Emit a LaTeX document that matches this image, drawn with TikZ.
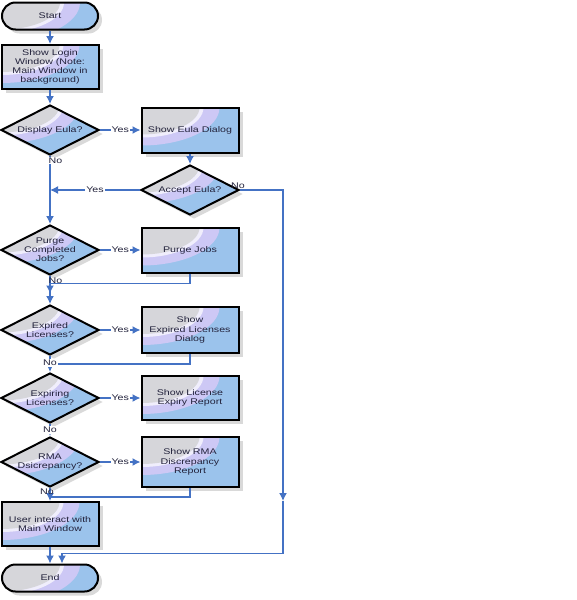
\documentclass[tikz,border=0pt]{standalone}
\usepackage{fontspec}
\setmainfont{Liberation Sans}[FakeStretch=1.3]
\usetikzlibrary{shapes.geometric,shadows,arrows.meta}
\definecolor{flowblue}{RGB}{68,114,196}
\definecolor{fillblue}{RGB}{155,195,236}
\definecolor{filllav}{RGB}{205,200,245}
\definecolor{fillgrey}{RGB}{214,214,218}
\definecolor{txtgrey}{RGB}{35,35,60}

\begin{document}
\begin{tikzpicture}[node distance=63pt,
  swoosh/.style={path picture={
    \fill[filllav] (path picture bounding box.north west) ellipse [x radius=78pt, y radius=38pt];
    \fill[white!70!filllav] (path picture bounding box.north west) ellipse [x radius=62pt, y radius=30pt];
    \fill[fillgrey] (path picture bounding box.north west) ellipse [x radius=58pt, y radius=27pt];}},
  base/.style={draw=black, line width=2pt, fill=fillblue, swoosh,
    drop shadow={shadow xshift=4pt, shadow yshift=-4pt, opacity=0.3},
    text=txtgrey, font=\fontsize{8.2pt}{9.2pt}\selectfont, align=center},
  term/.style={base, rounded corners=13.5pt, minimum width=96pt, minimum height=27pt},
  box/.style={base, minimum width=97pt, minimum height=44pt, inner sep=1pt},
  test/.style={base, diamond, aspect=2, minimum width=98pt, minimum height=50pt, inner xsep=-14pt, inner ysep=-8pt},
  link/.style={draw=flowblue, line width=1.4pt},
  flow/.style={link, -{Latex[length=8pt,width=8pt]}},
  tag/.style={fill=white, inner sep=1pt, text=txtgrey, font=\fontsize{8.2pt}{9.2pt}\selectfont}]
\useasboundingbox (0,0) rectangle (576pt,-600pt);
% left column
\node[term] (start) at (50pt,-16pt) {Start};
\node[box, node distance=51pt] (login) [below of=start] {Show Login\\Window (Note:\\Main Window in\\background)};
\node[test] (eula) [below of=login] {Display Eula?};
\node[test, node distance=120pt] (purge) [below of=eula] {Purge\\Completed\\Jobs?};
\node[test, node distance=80pt] (expired) [below of=purge] {Expired\\Licenses?};
\node[test, node distance=68pt] (expiring) [below of=expired] {Expiring\\Licenses?};
\node[test, node distance=64pt] (rma) [below of=expiring] {RMA\\Dsicrepancy?};
\node[box, node distance=62pt] (user) [below of=rma] {User interact with\\Main Window};
\node[term, node distance=54pt] (fin) [below of=user] {End};
% right column
\node[box, node distance=140pt, minimum height=45pt] (showeula) [right of=eula] {Show Eula Dialog};
\node[test, node distance=60pt] (accept) [below of=showeula] {Accept Eula?};
\node[box, node distance=140pt, minimum height=45pt] (purgejobs) [right of=purge] {Purge Jobs};
\node[box, node distance=140pt, minimum height=46pt] (expiredbox) [right of=expired] {Show\\Expired Licenses\\Dialog};
\node[box, node distance=140pt] (expirybox) [right of=expiring] {Show License\\Expiry Report};
\node[box, node distance=140pt, minimum height=50pt] (rmabox) [right of=rma] {Show RMA\\Discrepancy\\Report};
% helper points
\coordinate (yesjoin) at (eula |- accept);
\coordinate (noturn) at ([xshift=43pt]accept.east);
\coordinate (nodrop) at (noturn |- user.north);
\coordinate (endin) at ([xshift=12pt]fin.north);
\coordinate (pjlow) at ([yshift=-10pt]purgejobs.south);
\coordinate (pjback) at (purge |- pjlow);
\coordinate (eblow) at ([yshift=-10pt]expiredbox.south);
\coordinate (ebback) at (expired |- eblow);
\coordinate (rmalow) at ([yshift=-9pt]rmabox.south);
\coordinate (rmaback) at (rma |- rmalow);
% connectors
\draw[flow] (start) -- (login);
\draw[flow] (login) -- (eula);
\draw[flow] (eula) -- node[tag] {Yes} (showeula);
\draw[flow] (eula) -- node[tag, pos=0, below right, xshift=-3pt] {No} (purge);
\draw[flow] (showeula) -- (accept);
\draw[flow] (accept) -- node[tag, pos=0.5] {Yes} (yesjoin);
\draw[flow] (accept) -- node[tag, pos=0, above, xshift=-2pt, fill=none] {No} (noturn) -- (nodrop);
\draw[flow] (nodrop) |- ([yshift=10pt]endin) -- (endin);
\draw[flow] (purge) -- node[tag] {Yes} (purgejobs);
\draw[flow] (purgejobs) |- (pjback) -- ++(0,-10pt);
\draw[flow] (purge) -- node[tag, pos=0, below right, xshift=-3pt, fill=none] {No} (expired);
\draw[flow] (expired) -- node[tag] {Yes} (expiredbox);
\draw[link] (expiredbox) |- (ebback);
\draw[flow] (expired) -- node[tag, pos=0.45] {No} (expiring);
\draw[flow] (expiring) -- node[tag] {Yes} (expirybox);
\draw[flow] (expiring) -- node[tag] {No} (rma);
\draw[flow] (rma) -- node[tag] {Yes} (rmabox);
\draw[link] (rmabox) |- (rmaback);
\draw[flow] (rma) -- node[tag, pos=0.3, fill=none, xshift=-3pt] {No} (user);
\draw[flow] (user) -- (fin);
\end{tikzpicture}
\end{document}
